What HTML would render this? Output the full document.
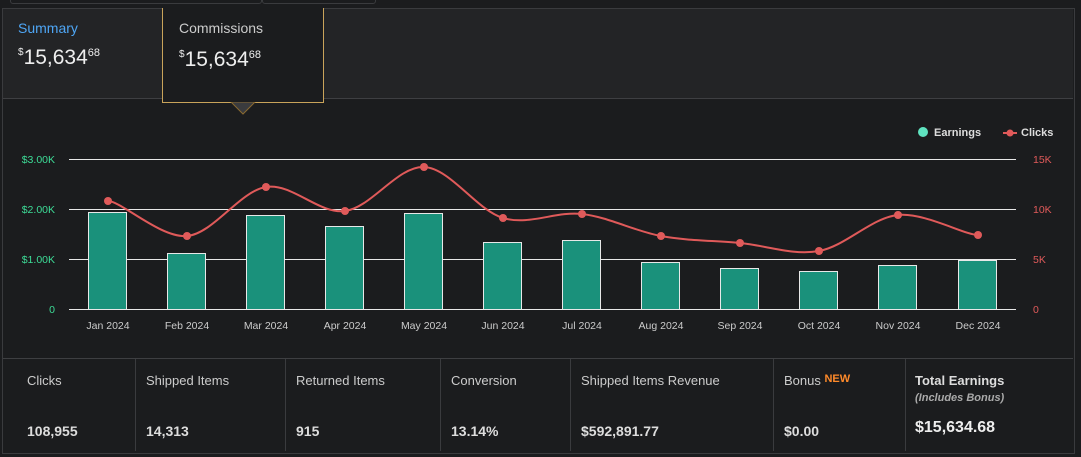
<!DOCTYPE html><html><head><style>
body{margin:0;width:1081px;height:457px;background:#1b1c1e;font-family:"Liberation Sans",sans-serif;overflow:hidden;position:relative;color:#ddd}
.abs{position:absolute}
</style></head><body>
<div class="abs" style="left:10px;top:-6px;width:250px;height:8px;border:1px solid #3a3b3e;border-radius:3px"></div>
<div class="abs" style="left:262px;top:-6px;width:112px;height:8px;border:1px solid #3a3b3e;border-radius:3px"></div>
<div class="abs" style="left:2px;top:8px;width:1071px;height:444px;border:1px solid #3a3b3e;background:#1b1c1e"></div>
<div class="abs" style="left:3px;top:9px;width:1070px;height:89px;background:#232426;border-bottom:1px solid #3e3f42"></div>
<div class="abs" style="left:18px;top:20px;font-size:14px;color:#4ea6f5">Summary</div>
<div class="abs" style="left:18px;top:46px;font-size:21px;color:#eee"><sup style="font-size:10px;vertical-align:9px">$</sup>15,634<sup style="font-size:11px;vertical-align:8px">68</sup></div>
<div class="abs" style="left:162px;top:8px;width:160px;height:94px;background:#1b1c1e;border:1px solid #c9a35a;border-top:none"></div>
<div class="abs" style="left:179px;top:20px;font-size:14px;color:#ccc">Commissions</div>
<div class="abs" style="left:179px;top:48px;font-size:21px;color:#eee"><sup style="font-size:10px;vertical-align:9px">$</sup>15,634<sup style="font-size:11px;vertical-align:8px">68</sup></div>
<svg class="abs" style="left:230px;top:102px" width="26" height="14"><polygon points="1,0 25,0 13,12" fill="#3a3b3e" stroke="#8a6a30"/><rect x="0" y="-2" width="26" height="2" fill="#1b1c1e"/></svg>

<svg class="abs" style="left:0;top:0" width="1081" height="357" font-family="Liberation Sans, sans-serif" font-size="11">
<g stroke="#e8e8e8" stroke-width="1">
<line x1="69" y1="159.5" x2="1016" y2="159.5"/><line x1="69" y1="209.5" x2="1016" y2="209.5"/><line x1="69" y1="259.5" x2="1016" y2="259.5"/><line x1="69" y1="309.5" x2="1016" y2="309.5"/>
</g>
<g fill="#3ddc97" font-size="10.5" text-anchor="end"><text x="55" y="163">$3.00K</text><text x="55" y="213">$2.00K</text><text x="55" y="263">$1.00K</text><text x="55" y="313">0</text></g>
<g fill="#e05a5a" font-size="10.5"><text x="1033" y="163">15K</text><text x="1033" y="213">10K</text><text x="1033" y="263">5K</text><text x="1033" y="313">0</text></g>
<g id="bars" fill="#1a917b" stroke="#e8e8e8" stroke-width="1"></g>
<g id="xl" fill="#ccc" font-size="10.5" text-anchor="middle"></g>
<path id="ln" fill="none" stroke="#e05a5a" stroke-width="2"/>
<g id="pts" fill="#e05a5a"></g>
<circle cx="923" cy="132" r="5" fill="#5fe3c0"/><text x="934" y="136" fill="#ddd" font-weight="bold">Earnings</text>
<line x1="1003" y1="133" x2="1017" y2="133" stroke="#e05a5a" stroke-width="2"/><circle cx="1010" cy="133" r="3.5" fill="#e05a5a"/><text x="1021" y="136" fill="#ddd" font-weight="bold">Clicks</text>
</svg>

<div class="abs" style="left:3px;top:358px;width:1070px;height:1px;background:#3e3f42"></div>
<div class="abs" style="left:3px;top:359px;width:1070px;height:92px;font-size:13px;color:#ccc">
<div class="abs" style="left:132px;top:0;width:1px;height:92px;background:#3a3b3e"></div>
<div class="abs" style="left:282px;top:0;width:1px;height:92px;background:#3a3b3e"></div>
<div class="abs" style="left:437px;top:0;width:1px;height:92px;background:#3a3b3e"></div>
<div class="abs" style="left:567px;top:0;width:1px;height:92px;background:#3a3b3e"></div>
<div class="abs" style="left:770px;top:0;width:1px;height:92px;background:#3a3b3e"></div>
<div class="abs" style="left:902px;top:0;width:1px;height:92px;background:#3a3b3e"></div>
<div class="abs" style="left:24px;top:14px">Clicks</div>
<div class="abs" style="left:143px;top:14px">Shipped Items</div>
<div class="abs" style="left:293px;top:14px">Returned Items</div>
<div class="abs" style="left:448px;top:14px">Conversion</div>
<div class="abs" style="left:578px;top:14px">Shipped Items Revenue</div>
<div class="abs" style="left:781px;top:14px">Bonus <span style="color:#ff8a2a;font-size:11px;font-weight:bold;vertical-align:3px">NEW</span></div>
<div class="abs" style="left:912px;top:14px;font-weight:bold;color:#ddd">Total Earnings</div>
<div class="abs" style="left:912px;top:33px;font-size:11px;font-style:italic;color:#aaa;font-weight:bold">(Includes Bonus)</div>
<div class="abs" style="left:24px;top:64px;font-weight:bold;color:#ddd;font-size:14px">108,955</div>
<div class="abs" style="left:143px;top:64px;font-weight:bold;color:#ddd;font-size:14px">14,313</div>
<div class="abs" style="left:293px;top:64px;font-weight:bold;color:#ddd;font-size:14px">915</div>
<div class="abs" style="left:448px;top:64px;font-weight:bold;color:#ddd;font-size:14px">13.14%</div>
<div class="abs" style="left:578px;top:64px;font-weight:bold;color:#ddd;font-size:14px">$592,891.77</div>
<div class="abs" style="left:781px;top:64px;font-weight:bold;color:#ddd;font-size:14px">$0.00</div>
<div class="abs" style="left:912px;top:60px;font-weight:bold;color:#eee;font-size:16px">$15,634.68</div>
</div>
<script>
var cx=[108,187,266,345,424,503,582,661,740,819,898,978];
var bt=[212,253,215,226,213,242,240,262,268,271,265,260];
var ly=[201,236,187,211,167,218,214,236,243,251,215,235];
var m=["Jan","Feb","Mar","Apr","May","Jun","Jul","Aug","Sep","Oct","Nov","Dec"];
var ns="http://www.w3.org/2000/svg",b=document.getElementById("bars"),xl=document.getElementById("xl"),pts=document.getElementById("pts");
for(var i=0;i<12;i++){var r=document.createElementNS(ns,"rect");r.setAttribute("x",cx[i]-19.5);r.setAttribute("y",bt[i]+.5);r.setAttribute("width",38);r.setAttribute("height",309-bt[i]);b.appendChild(r);
var t=document.createElementNS(ns,"text");t.setAttribute("x",cx[i]);t.setAttribute("y",329);t.textContent=m[i]+" 2024";xl.appendChild(t);
var c=document.createElementNS(ns,"circle");c.setAttribute("cx",cx[i]);c.setAttribute("cy",ly[i]);c.setAttribute("r",4);pts.appendChild(c);}
var d="M"+cx[0]+","+ly[0];
for(var i=0;i<11;i++){var p0=i?i-1:0,p3=i<10?i+2:11;
var c1x=cx[i]+(cx[i+1]-cx[p0])/6,c1y=ly[i]+(ly[i+1]-ly[p0])/6,c2x=cx[i+1]-(cx[p3]-cx[i])/6,c2y=ly[i+1]-(ly[p3]-ly[i])/6;
if(i==0){c1y=ly[0]}if(i==10){c2y=ly[11]}
d+=" C"+c1x+","+c1y+" "+c2x+","+c2y+" "+cx[i+1]+","+ly[i+1];}
document.getElementById("ln").setAttribute("d",d);
</script>
</body></html>
